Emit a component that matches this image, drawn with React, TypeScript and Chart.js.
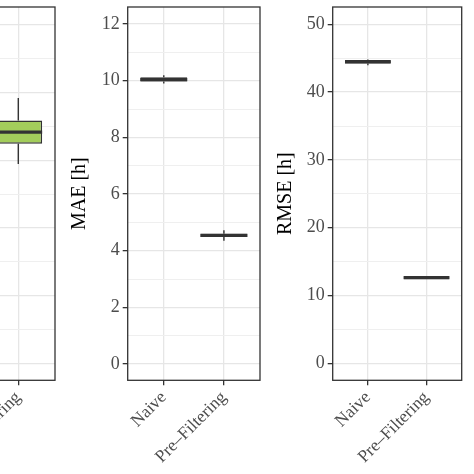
import React, { useEffect, useRef } from 'react';
import { Chart, registerables } from 'chart.js';
Chart.register(...registerables);

const categories = ['Naive', 'Pre\u2013Filtering'];

// Left panel (cut off at the image edge; only the Pre-Filtering box is visible)
const leftLow = [null, 5.89];
const leftQ1 = [null, 6.49];
const leftMedian = [null, 6.83];
const leftQ3 = [null, 7.18];
const leftHigh = [null, 7.84];
const leftMajorTicks = [0, 2, 4, 6, 8, 10];
const leftMinorTicks = [1, 3, 5, 7, 9];
const leftLimits = [-0.5, 10.53];

// MAE panel
const maeLow = [9.9, 4.35];
const maeQ1 = [9.97, 4.48];
const maeMedian = [10.04, 4.54];
const maeQ3 = [10.12, 4.6];
const maeHigh = [10.19, 4.72];
const maeMajorTicks = [0, 2, 4, 6, 8, 10, 12];
const maeMinorTicks = [1, 3, 5, 7, 9, 11];
const maeLimits = [-0.575, 12.6];

// RMSE panel
const rmseLow = [43.95, 12.42];
const rmseQ1 = [44.2, 12.42];
const rmseMedian = [44.47, 12.63];
const rmseQ3 = [44.75, 12.85];
const rmseHigh = [44.8, 12.87];
const rmseMajorTicks = [0, 10, 20, 30, 40, 50];
const rmseMinorTicks = [5, 15, 25, 35, 45];
const rmseLimits = [-2.5, 52.55];

const FONT = 'Liberation Serif';
const DARK = '#333333';

type PanelProps = {
  left: number;
  width: number;
  areaLeft: number;
  padRight: number;
  title: string;
  titlePad: number;
  low: (number | null)[];
  q1: (number | null)[];
  median: (number | null)[];
  q3: (number | null)[];
  high: (number | null)[];
  major: number[];
  minor: number[];
  limits: number[];
  fill: string;
};

function BoxPanel(p: PanelProps) {
  const ref = useRef<HTMLCanvasElement>(null);
  useEffect(() => {
    if (!ref.current) return;
    const boxPlugin = {
      id: 'boxparts',
      beforeDatasetsDraw(chart: any) {
        const meta = chart.getDatasetMeta(0);
        const y = chart.scales.y;
        const ctx = chart.ctx;
        ctx.save();
        ctx.strokeStyle = DARK;
        ctx.lineWidth = 1.4;
        meta.data.forEach((bar: any, i: number) => {
          if (p.q1[i] == null) return;
          ctx.beginPath();
          ctx.moveTo(bar.x, y.getPixelForValue(p.high[i]));
          ctx.lineTo(bar.x, y.getPixelForValue(p.q3[i]));
          ctx.moveTo(bar.x, y.getPixelForValue(p.q1[i]));
          ctx.lineTo(bar.x, y.getPixelForValue(p.low[i]));
          ctx.stroke();
        });
        ctx.restore();
      },
      afterDatasetsDraw(chart: any) {
        const meta = chart.getDatasetMeta(0);
        const y = chart.scales.y;
        const ctx = chart.ctx;
        const a = chart.chartArea;
        ctx.save();
        ctx.strokeStyle = DARK;
        ctx.lineWidth = 3.2;
        meta.data.forEach((bar: any, i: number) => {
          if (p.median[i] == null) return;
          const yy = y.getPixelForValue(p.median[i]);
          ctx.beginPath();
          ctx.moveTo(bar.x - bar.width / 2, yy);
          ctx.lineTo(bar.x + bar.width / 2, yy);
          ctx.stroke();
        });
        ctx.lineWidth = 1.3;
        ctx.strokeRect(a.left, a.top, a.right - a.left, a.bottom - a.top);
        ctx.restore();
      },
    };
    const allTicks = [...p.major, ...p.minor].sort((a, b) => a - b);
    const chart = new Chart(ref.current, {
      type: 'bar',
      data: {
        datasets: [
          {
            data: categories.map((_, i) => ({
              x: i,
              y: p.q1[i] == null ? null : [p.q1[i], p.q3[i]],
            })) as any,
            backgroundColor: p.fill,
            borderColor: DARK,
            borderWidth: 1.5,
            borderSkipped: false,
            barPercentage: 0.78,
            categoryPercentage: 1,
          },
        ],
      },
      options: {
        responsive: false,
        animation: false,
        devicePixelRatio: 1,
        layout: { padding: { top: 7, right: p.padRight, bottom: 0, left: 0 } },
        plugins: { legend: { display: false }, tooltip: { enabled: false } },
        scales: {
          x: {
            type: 'linear',
            min: -0.6,
            max: 1.6,
            offset: false,
            afterBuildTicks: (s: any) => {
              s.ticks = categories.map((_, i) => ({ value: i }));
            },
            afterFit: (s: any) => {
              s.height = 93.7;
              s.paddingLeft = 0;
              s.paddingRight = 0;
            },
            ticks: {
              autoSkip: false,
              minRotation: 45,
              maxRotation: 45,
              color: '#4d4d4d',
              padding: 2,
              font: { family: FONT, size: 17.5 },
              callback: (v: any) => categories[v as number] ?? '',
            },
            grid: {
              offset: false,
              color: '#e6e6e6',
              lineWidth: 1.3,
              tickLength: 5,
              tickColor: DARK,
              tickWidth: 1.3,
            },
            border: { display: false },
          },
          y: {
            type: 'linear',
            min: p.limits[0],
            max: p.limits[1],
            afterBuildTicks: (s: any) => {
              s.ticks = allTicks.map((v) => ({ value: v }));
            },
            afterFit: (s: any) => {
              s.width = p.areaLeft;
              s.paddingTop = 0;
              s.paddingBottom = 0;
            },
            ticks: {
              autoSkip: false,
              color: '#4d4d4d',
              padding: 3,
              font: { family: FONT, size: 18 },
              callback: (v: any) => (p.major.includes(v as number) ? String(v) : ''),
            },
            grid: {
              offset: false,
              color: (c: any) => (p.major.includes(c.tick?.value) ? '#e6e6e6' : '#efefef'),
              lineWidth: (c: any) => (p.major.includes(c.tick?.value) ? 1.3 : 1),
              tickLength: 5,
              tickColor: (c: any) => (p.major.includes(c.tick?.value) ? DARK : 'rgba(0,0,0,0)'),
              tickWidth: 1.3,
            },
            border: { display: false },
            title: {
              display: true,
              text: p.title,
              color: '#000000',
              font: { family: FONT, size: 20 },
              padding: { top: p.titlePad, bottom: 0 },
            },
          },
        },
      },
      plugins: [boxPlugin],
    } as any);
    return () => chart.destroy();
  }, []);
  return (
    <canvas
      ref={ref}
      width={p.width}
      height={474}
      style={{ position: 'absolute', left: p.left, top: 0, width: p.width, height: 474 }}
    />
  );
}

export default function App() {
  return (
    <div
      style={{
        position: 'fixed',
        left: 0,
        top: 0,
        width: 474,
        height: 474,
        overflow: 'hidden',
        background: '#ffffff',
      }}
    >
      <BoxPanel
        left={-200}
        width={260}
        areaLeft={120.4}
        padRight={5}
        title=""
        titlePad={8}
        low={leftLow}
        q1={leftQ1}
        median={leftMedian}
        q3={leftQ3}
        high={leftHigh}
        major={leftMajorTicks}
        minor={leftMinorTicks}
        limits={leftLimits}
        fill="#a3cd5b"
      />
      <BoxPanel
        left={60}
        width={205}
        areaLeft={67.7}
        padRight={5}
        title="MAE [h]"
        titlePad={8}
        low={maeLow}
        q1={maeQ1}
        median={maeMedian}
        q3={maeQ3}
        high={maeHigh}
        major={maeMajorTicks}
        minor={maeMinorTicks}
        limits={maeLimits}
        fill="#a3cd5b"
      />
      <BoxPanel
        left={265}
        width={209}
        areaLeft={67.7}
        padRight={12.3}
        title="RMSE [h]"
        titlePad={9}
        low={rmseLow}
        q1={rmseQ1}
        median={rmseMedian}
        q3={rmseQ3}
        high={rmseHigh}
        major={rmseMajorTicks}
        minor={rmseMinorTicks}
        limits={rmseLimits}
        fill="#a3cd5b"
      />
    </div>
  );
}
